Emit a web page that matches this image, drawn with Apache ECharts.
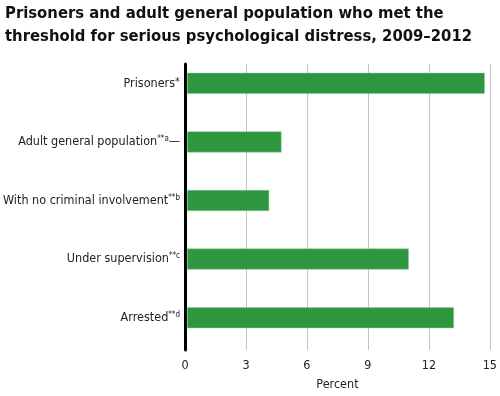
<!DOCTYPE html>
<html><head><meta charset="utf-8">
<script src="https://cdn.jsdelivr.net/npm/echarts@6/dist/echarts.min.js"></script>
<style>html,body{margin:0;padding:0;background:#fff}#c{width:500px;height:396px}</style>
</head><body><div id="c"></div>
<script>
var categories = ["Prisoners", "Adult general population", "With no criminal involvement", "Under supervision", "Arrested"];
var marks = ["*", "**a", "**b", "**c", "**d"];
var values = [14.5, 4.6, 4.0, 10.8, 13.0];
var xTicks = [0, 3, 6, 9, 12, 15];
var FONT = "'DejaVu Sans Condensed', 'Roboto Condensed', sans-serif";
var chart = echarts.init(document.getElementById('c'));
chart.setOption({
  animation: false,
  title: {
    text: "Prisoners and adult general population who met the\nthreshold for serious psychological distress, 2009\u20132012",
    left: 0, top: -3,
    textStyle: {fontFamily: FONT, fontWeight: 'bold', fontSize: 16.5, lineHeight: 23, color: '#111'}
  },
  grid: [
    {left: 185, right: 5, top: 54, bottom: 49},
    {left: 185, right: 5, top: 64, bottom: 41}
  ],
  xAxis: [
    {gridIndex: 0, type: 'value', min: 0, max: 15, show: false},
    {gridIndex: 1, type: 'value', min: 0, max: 15, interval: 3,
     axisLine: {show: false}, axisTick: {show: false},
     splitLine: {show: true, lineStyle: {color: '#c4c4c4', width: 1}},
     axisLabel: {margin: 9, fontFamily: FONT, fontSize: 12.5, color: '#222',
       formatter: function (v) { return xTicks.indexOf(v) >= 0 ? String(v) : ''; }},
     name: 'Percent', nameLocation: 'middle', nameGap: 28,
     nameTextStyle: {fontFamily: FONT, fontSize: 12.5, color: '#222'}}
  ],
  yAxis: [
    {gridIndex: 0, type: 'category', inverse: true, data: categories,
     axisLine: {show: false}, axisTick: {show: false},
     axisLabel: {margin: 7, fontFamily: FONT, fontSize: 12.5, color: '#222',
       formatter: function (v, i) {
         var m = marks[i];
         if (i === 0) return v + '{star|' + m + '}';
         var s = v + '{sup|' + m + '}';
         if (i === 1) s += '{dash|\u2014}';
         return s;
       },
       rich: {
         sup: {fontFamily: FONT, fontSize: 8, color: '#222', verticalAlign: 'top', padding: [0, 0, 6, 0]},
         star: {fontFamily: FONT, fontSize: 11, color: '#222', verticalAlign: 'top', padding: [0, 0, 3, 0]},
         dash: {fontFamily: FONT, fontSize: 12.5, color: '#222'}
       }}},
    {gridIndex: 1, type: 'value', min: 0, max: 1,
     axisLine: {show: true, onZero: false, lineStyle: {color: '#000', width: 3}},
     axisTick: {show: false}, axisLabel: {show: false}, splitLine: {show: false}}
  ],
  series: [{
    type: 'bar', xAxisIndex: 0, yAxisIndex: 0, data: values, barWidth: 21,
    itemStyle: {color: '#2e963f', borderColor: '#8fcf95', borderWidth: 0.5},
    z: 3
  }]
});
</script></body></html>
